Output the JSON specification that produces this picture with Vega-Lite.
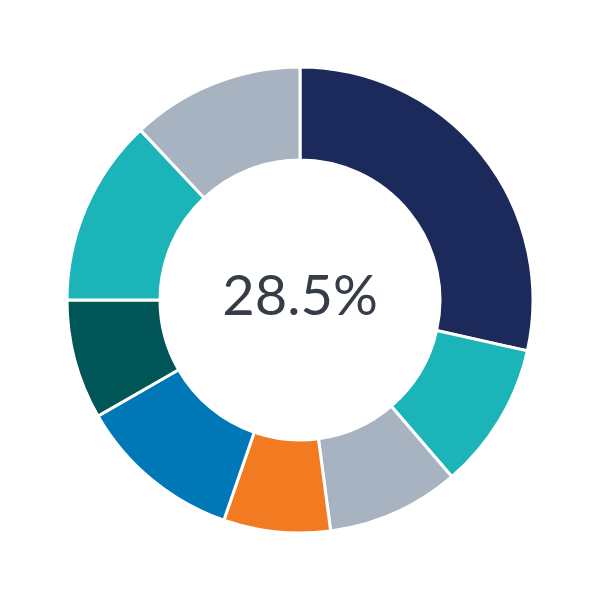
{
  "$schema": "https://vega.github.io/schema/vega-lite/v6.json",
  "width": 600,
  "height": 600,
  "autosize": {"type": "fit", "contains": "padding"},
  "padding": 0,
  "background": "white",
  "view": {"stroke": null},
  "data": {
    "values": [
      {"idx": 1, "cat": "A", "value": 28.5, "color": "#1b2a5a"},
      {"idx": 2, "cat": "B", "value": 10.2, "color": "#1bb4b8"},
      {"idx": 3, "cat": "C", "value": 9.2, "color": "#a8b3c1"},
      {"idx": 4, "cat": "D", "value": 7.4, "color": "#f27b21"},
      {"idx": 5, "cat": "E", "value": 11.4, "color": "#0077b6"},
      {"idx": 6, "cat": "F", "value": 8.3, "color": "#005656"},
      {"idx": 7, "cat": "G", "value": 13.0, "color": "#1bb4b8"},
      {"idx": 8, "cat": "H", "value": 12.0, "color": "#a8b3c1"}
    ]
  },
  "layer": [
    {
      "mark": {"type": "arc", "innerRadius": 140, "outerRadius": 233, "stroke": "white", "strokeWidth": 3},
      "encoding": {
        "theta": {"field": "value", "type": "quantitative", "stack": true},
        "order": {"field": "idx", "type": "quantitative"},
        "color": {"field": "color", "type": "nominal", "scale": null, "legend": null}
      }
    },
    {
      "data": {"values": [{"label": "28.5%"}]},
      "mark": {"type": "text", "font": "Lato", "fontSize": 56, "color": "#363c48", "align": "center", "baseline": "middle", "dy": -2},
      "encoding": {"text": {"field": "label", "type": "nominal"}}
    }
  ]
}
